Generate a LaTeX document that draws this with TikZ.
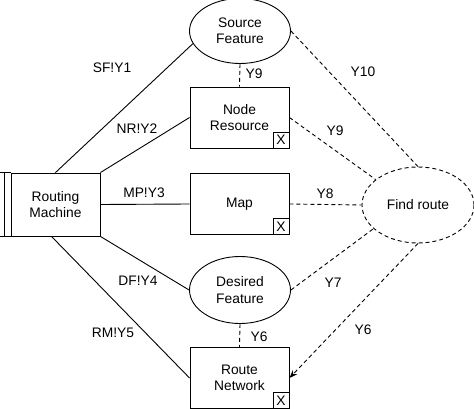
\documentclass[tikz,border=0pt]{standalone}
\usepackage{fontspec}
\setmainfont{Liberation Sans}
\usepackage{tikz}
\usetikzlibrary{shapes.geometric}
\usetikzlibrary{arrows.meta}

\tikzset{
  every node/.style={font=\fontsize{13.8}{16.5}\selectfont},
  box/.style={draw, line width=0.9pt, minimum width=99pt, minimum height=61pt, inner sep=0pt, align=center},
  oval/.style={draw, line width=0.9pt, ellipse, minimum width=101pt, minimum height=65pt, inner sep=0pt, align=center},
  xmark/.style={draw, line width=0.9pt, minimum size=16pt, inner sep=0pt, anchor=south east},
  solid link/.style={line width=0.9pt},
  dash link/.style={line width=0.9pt, dash pattern=on 4pt off 3pt}
}

\begin{document}
\begin{tikzpicture}[x=1pt,y=-1pt,>={Stealth[length=8pt,width=6pt]}]
  \useasboundingbox (0,0) rectangle (474,409);

  % the machine on the left
  \node[draw, line width=0.9pt, minimum width=89pt, minimum height=63pt, inner sep=0pt, align=center]
    (rm) at (55.5,204.5) {Routing\\Machine};
  \draw[line width=0.9pt] (rm.north west) -- ++(-11,0);
  \draw[line width=0.9pt] (rm.south west) -- ++(-11,0);
  \draw[line width=0.9pt] ([xshift=-6pt]rm.north west) -- ([xshift=-6pt]rm.south west);

  % column of resources
  \node[oval] (sf) at (240,31) {Source\\Feature};
  \node[box]  (nr) at (239.5,117.5) {Node\\Resource};
  \node[box]  (mp) at (239.5,204) {Map};
  \node[oval, minimum height=67pt] (df) at (240,290) {Desired\\Feature};
  \node[box]  (rn) at (239.5,378) {Route\\Network};
  \foreach \b in {nr,mp,rn}{
    \node[xmark] (\b x) at (\b.south east) {X};
  }

  % the process on the right
  \node[oval, dash link, minimum width=112pt, minimum height=76pt] (fr) at (418,205) {Find route};

  % channels from the machine
  \draw[solid link] (rm.north) -- (sf.195);
  \draw[solid link] (rm.north east) -- (nr.west);
  \draw[solid link] (rm.east) -- (mp.west);
  \draw[solid link] (rm.south east) -- (df.west);
  \draw[solid link] ([xshift=-4pt]rm.south) -- (rn.west);
  \node (l1) at (112,68)  {SF!Y1};
  \node (l2) at (137,129) {NR!Y2};
  \node (l3) at (144,193) {MP!Y3};
  \node (l4) at (138,281) {DF!Y4};
  \node (l5) at (113,333) {RM!Y5};

  % channels of the process
  \draw[dash link] (sf.south) -- (nr.north);
  \draw[dash link] (df.south) -- (rn.north);
  \draw[dash link] (sf.east) -- (fr.north);
  \draw[dash link] (nr.east) -- (fr.149);
  \draw[dash link] (mp.east) -- (fr.west);
  \draw[dash link] (df.east) -- (fr.208);
  \draw[dash link,->] (fr.south) -- (rn.east);
  \node (l9a) at (254,74)  {Y9};
  \node (l6a) at (259,337) {Y6};
  \node (l10) at (363,72)  {Y10};
  \node (l9b) at (335,131) {Y9};
  \node (l8)  at (325,194) {Y8};
  \node (l7)  at (333,283) {Y7};
  \node (l6b) at (363,330) {Y6};
\end{tikzpicture}
\end{document}
